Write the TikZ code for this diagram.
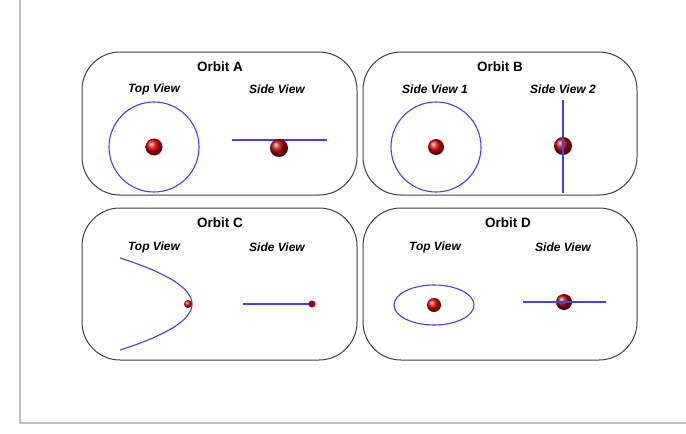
\documentclass[tikz,border=0pt]{standalone}
\usepackage{fontspec}
\setmainfont{Liberation Sans}
\begin{document}
\begin{tikzpicture}[x=1pt,y=-1pt,
  panel/.style={draw=black!75,line width=1pt,rounded corners=38pt},
  title/.style={font=\bfseries\fontsize{13.5}{15}\selectfont},
  view/.style={font=\bfseries\itshape\fontsize{12}{14}\selectfont},
  orb/.style={draw=blue!75,line width=1.1pt},
  ball/.style={circle,inner sep=0pt,shading=ball,ball color=red!85!black}]
\useasboundingbox (0,0) rectangle (686,434);
\draw[black!25,line width=1.5pt] (20,-2) -- (20,423) -- (688,423);
% A
\draw[panel] (82,52) rectangle (357,195);
\node[title] (ta) at (220,67) {Orbit A};
\node[view] (va1) at (154,89) {Top View};
\node[view] (va2) at (277,89) {Side View};
\draw[orb] (154,147) circle (45);
\node[ball,minimum size=17pt] (ba1) at (154,147) {};
\draw[orb] (232,140) -- (327,140);
\node[ball,minimum size=18pt,ball color=red!70!black] (ba2) at (279,148) {};
% B
\draw[panel] (363,52) rectangle (637,195);
\node[title] (tb) at (500,67) {Orbit B};
\node[view] (vb1) at (435,89) {Side View 1};
\node[view] (vb2) at (563,89) {Side View 2};
\draw[orb] (436,147) circle (45);
\node[ball,minimum size=16pt] (bb1) at (436,147) {};
\node[ball,minimum size=18pt,ball color=red!70!black] (bb2) at (563,146) {};
\draw[orb,line width=1.5pt] (563,100) -- (563,193);
% C
\draw[panel] (82,208) rectangle (357,360);
\node[title] (tc) at (220,223) {Orbit C};
\node[view] (vc1) at (154,247) {Top View};
\node[view] (vc2) at (277,247) {Side View};
\draw[orb] plot[domain=-46:46,samples=60,smooth] ({192-72*(\x/46)^2},{304+\x});
\node[ball,minimum size=8pt] (bc1) at (188,304) {};
\draw[orb] (243,304) -- (312,304);
\node[circle,fill=black!70!blue!40!red,inner sep=0pt,minimum size=7pt] (bc2) at (312,304) {};
% D
\draw[panel] (363,208) rectangle (637,360);
\node[title] (td) at (508,223) {Orbit D};
\node[view] (vd1) at (435,247) {Top View};
\node[view] (vd2) at (563,247) {Side View};
\draw[orb] (434,305) ellipse (40 and 20);
\node[ball,minimum size=14pt] (bd1) at (434,305) {};
\node[ball,minimum size=16pt,ball color=red!70!black] (bd2) at (564,302) {};
\draw[orb,line width=1.6pt] (523,302) -- (606,302);
\end{tikzpicture}
\end{document}
